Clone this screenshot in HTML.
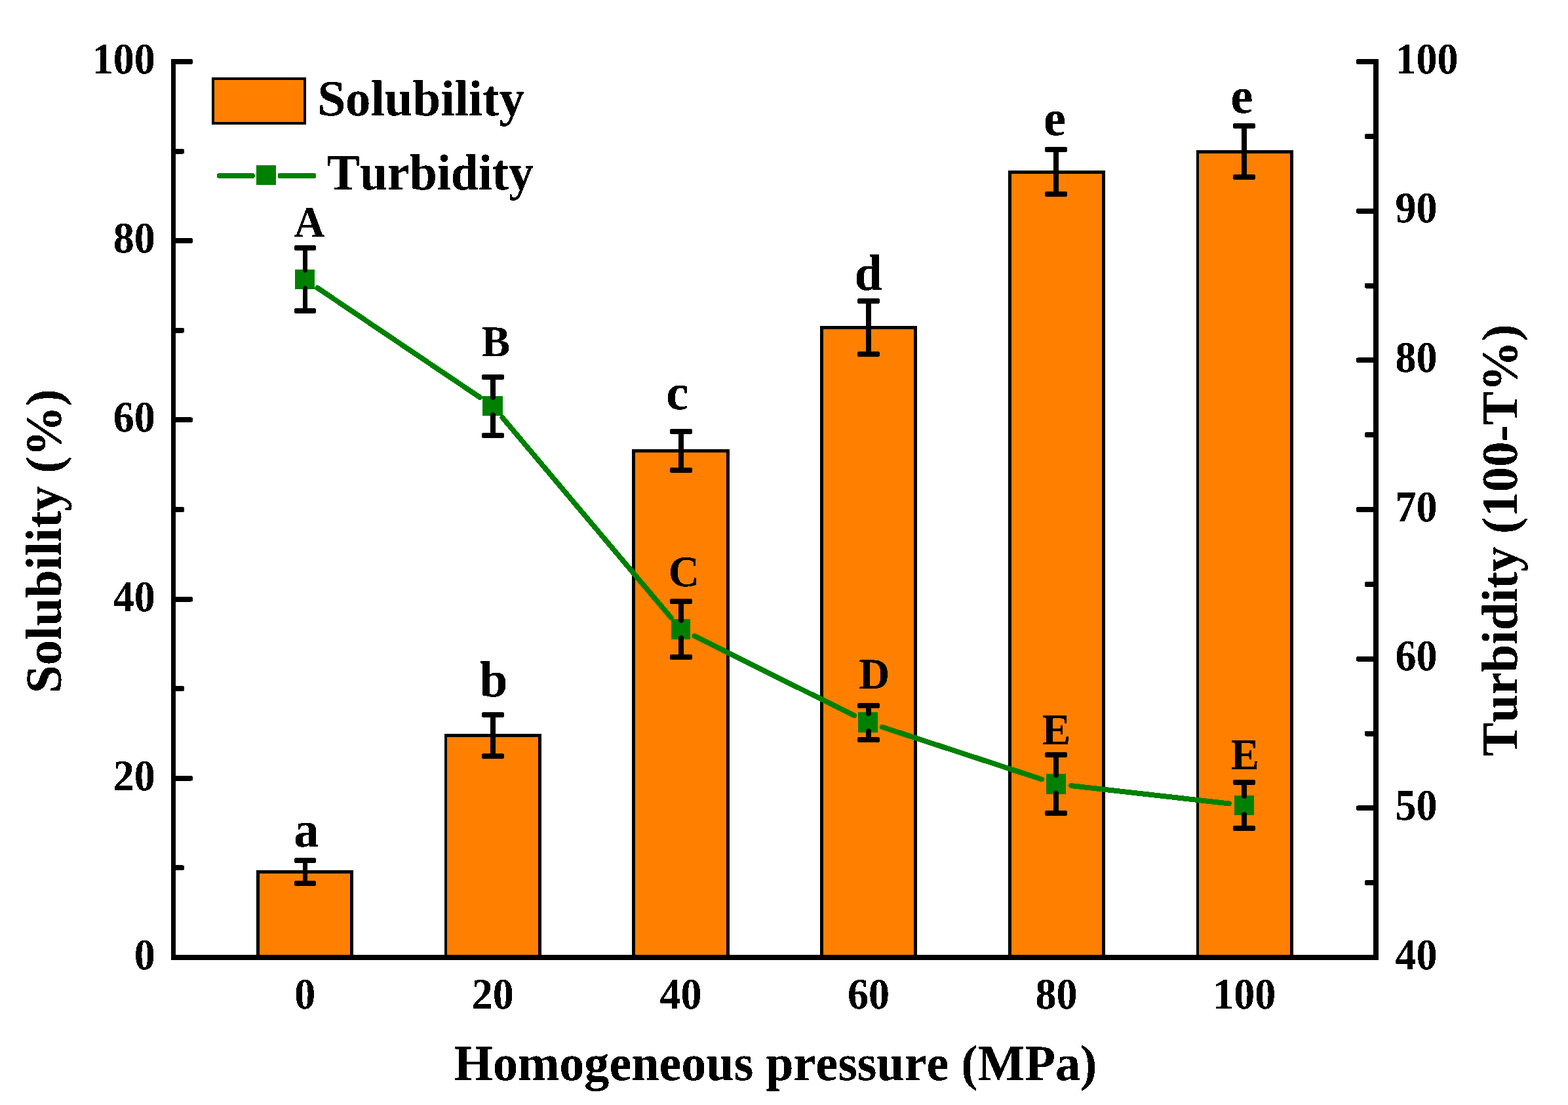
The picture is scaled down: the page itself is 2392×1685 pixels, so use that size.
<!DOCTYPE html>
<html lang="en">
<head>
<meta charset="utf-8">
<title>Solubility and turbidity vs homogeneous pressure</title>
<style>
html,body{margin:0;padding:0;background:#fff;}
body{width:2392px;height:1685px;overflow:hidden;font-family:"Liberation Serif", "DejaVu Serif", serif;}
svg{display:block;}
svg rect,svg line,svg path{shape-rendering:crispEdges;}
svg text{font-kerning:none;font-variant-ligatures:none;text-rendering:geometricPrecision;}
</style>
</head>
<body>
<svg width="2392" height="1685" viewBox="0 0 2392 1685" font-family='"Liberation Serif", "DejaVu Serif", serif' font-weight="bold">
<defs><filter id="bilevel" filterUnits="userSpaceOnUse" x="0" y="0" width="2392" height="1685" color-interpolation-filters="sRGB"><feComponentTransfer><feFuncA type="discrete" tableValues="0 0 1 1 1"/></feComponentTransfer></filter></defs>
<rect width="2392" height="1685" fill="#fff"/>
<g id="bars">
<rect x="391" y="1327" width="148" height="133" fill="#000"/><rect x="396" y="1332" width="138" height="128" fill="#ff8000"/>
<rect x="678" y="1119" width="148" height="341" fill="#000"/><rect x="682" y="1124" width="139" height="336" fill="#ff8000"/>
<rect x="964" y="685" width="149" height="775" fill="#000"/><rect x="969" y="690" width="139" height="770" fill="#ff8000"/>
<rect x="1251" y="497" width="148" height="963" fill="#000"/><rect x="1256" y="502" width="138" height="958" fill="#ff8000"/>
<rect x="1538" y="260" width="148" height="1200" fill="#000"/><rect x="1543" y="265" width="138" height="1195" fill="#ff8000"/>
<rect x="1825" y="229" width="148" height="1231" fill="#000"/><rect x="1829" y="234" width="139" height="1226" fill="#ff8000"/>
</g>
<g id="axes" fill="#000">
<rect x="261" y="90.0" width="7" height="1374.0"/>
<rect x="2095" y="90.0" width="8" height="1374.0"/>
<rect x="261" y="1456" width="1842" height="8"/>
</g>
<g id="ticks" fill="#000">
<rect x="265" y="1319.40" width="16" height="8.0" rx="2.4"/>
<rect x="265" y="1182.80" width="29" height="8.0" rx="2.4"/>
<rect x="265" y="1046.20" width="16" height="8.0" rx="2.4"/>
<rect x="265" y="909.60" width="29" height="8.0" rx="2.4"/>
<rect x="265" y="773.00" width="16" height="8.0" rx="2.4"/>
<rect x="265" y="636.40" width="29" height="8.0" rx="2.4"/>
<rect x="265" y="499.80" width="16" height="8.0" rx="2.4"/>
<rect x="265" y="363.20" width="29" height="8.0" rx="2.4"/>
<rect x="265" y="226.60" width="16" height="8.0" rx="2.4"/>
<rect x="265" y="90.00" width="29" height="8.0" rx="2.4"/>
<rect x="2082" y="1342.17" width="16" height="8.0" rx="2.4"/>
<rect x="2069" y="1228.33" width="29" height="8.0" rx="2.4"/>
<rect x="2082" y="1114.50" width="16" height="8.0" rx="2.4"/>
<rect x="2069" y="1000.67" width="29" height="8.0" rx="2.4"/>
<rect x="2082" y="886.83" width="16" height="8.0" rx="2.4"/>
<rect x="2069" y="773.00" width="29" height="8.0" rx="2.4"/>
<rect x="2082" y="659.17" width="16" height="8.0" rx="2.4"/>
<rect x="2069" y="545.33" width="29" height="8.0" rx="2.4"/>
<rect x="2082" y="431.50" width="16" height="8.0" rx="2.4"/>
<rect x="2069" y="317.67" width="29" height="8.0" rx="2.4"/>
<rect x="2082" y="203.83" width="16" height="8.0" rx="2.4"/>
<rect x="2069" y="90.00" width="29" height="8.0" rx="2.4"/>
</g>
<g id="bar-err" fill="#000">
<rect x="462" y="1310" width="7" height="39"/><rect x="449" y="1308" width="33" height="8" rx="3"/><rect x="449" y="1343" width="33" height="8" rx="3"/>
<rect x="748" y="1088" width="8" height="67"/><rect x="735" y="1086" width="34" height="8" rx="3"/><rect x="735" y="1149" width="34" height="8" rx="3"/>
<rect x="1035" y="656" width="8" height="63"/><rect x="1022" y="654" width="34" height="8" rx="3"/><rect x="1022" y="713" width="34" height="8" rx="3"/>
<rect x="1321" y="457" width="8" height="85"/><rect x="1308" y="455" width="34" height="8" rx="3"/><rect x="1308" y="536" width="34" height="8" rx="3"/>
<rect x="1607" y="226" width="8" height="72"/><rect x="1594" y="224" width="34" height="8" rx="3"/><rect x="1594" y="292" width="34" height="8" rx="3"/>
<rect x="1894" y="190" width="8" height="82"/><rect x="1881" y="188" width="34" height="8" rx="3"/><rect x="1881" y="266" width="34" height="8" rx="3"/>
</g>
<g id="line" stroke="#008000" stroke-width="8.0" stroke-linecap="round" fill="none">
<line x1="484.24" y1="438.96" x2="732.26" y2="606.04"/>
<line x1="766.45" y1="636.74" x2="1023.55" y2="941.76"/>
<line x1="1059.27" y1="969.83" x2="1303.23" y2="1091.17"/>
<line x1="1346.05" y1="1108.72" x2="1588.95" y2="1188.28"/>
<line x1="1634.05" y1="1198.11" x2="1874.95" y2="1225.39"/>
</g>
<g id="markers" fill="#008000">
<rect x="450" y="411" width="30" height="30"/>
<rect x="736" y="604" width="31" height="30"/>
<rect x="1024" y="944" width="29" height="31"/>
<rect x="1309" y="1086" width="30" height="31"/>
<rect x="1596" y="1180" width="30" height="31"/>
<rect x="1883" y="1213" width="30" height="30"/>
</g>
<g id="line-err" fill="#000">
<path d="M462 376H469V412.30A3.5 3.5 0 0 1 462 412.30Z"/><path d="M462 476H469V439.60A3.5 3.5 0 0 0 462 439.60Z"/><rect x="449" y="374" width="33" height="8" rx="3"/><rect x="449" y="470" width="33" height="8" rx="3"/>
<path d="M748 573H756V605.80A4.0 4.0 0 0 1 748 605.80Z"/><path d="M748 666H756V633.00A4.0 4.0 0 0 0 748 633.00Z"/><rect x="735" y="571" width="34" height="8" rx="3"/><rect x="735" y="660" width="34" height="8" rx="3"/>
<path d="M1035 915H1043V946.00A4.0 4.0 0 0 1 1035 946.00Z"/><path d="M1035 1004H1043V972.90A4.0 4.0 0 0 0 1035 972.90Z"/><rect x="1022" y="913" width="34" height="8" rx="3"/><rect x="1022" y="998" width="34" height="8" rx="3"/>
<path d="M1321 1074H1329V1087.90A4.0 4.0 0 0 1 1321 1087.90Z"/><path d="M1321 1130H1329V1114.90A4.0 4.0 0 0 0 1321 1114.90Z"/><rect x="1308" y="1072" width="34" height="8" rx="3"/><rect x="1308" y="1124" width="34" height="8" rx="3"/>
<path d="M1607 1149H1615V1181.80A4.0 4.0 0 0 1 1607 1181.80Z"/><path d="M1607 1242H1615V1209.80A4.0 4.0 0 0 0 1607 1209.80Z"/><rect x="1594" y="1147" width="34" height="8" rx="3"/><rect x="1594" y="1236" width="34" height="8" rx="3"/>
<path d="M1894 1191H1902V1214.00A4.0 4.0 0 0 1 1894 1214.00Z"/><path d="M1894 1265H1902V1241.90A4.0 4.0 0 0 0 1894 1241.90Z"/><rect x="1881" y="1189" width="34" height="8" rx="3"/><rect x="1881" y="1259" width="34" height="8" rx="3"/>
</g>
<g id="legend">
<rect x="323" y="118" width="144" height="72" fill="#000"/><rect x="327" y="122" width="136" height="64" fill="#ff8000"/>
<g stroke="#008000" stroke-width="8.0" stroke-linecap="round"><line x1="334.8" y1="268" x2="385.2" y2="268"/><line x1="427.5" y1="268" x2="478.4" y2="268"/></g>
<rect x="391" y="252" width="30" height="30" fill="#008000"/>
</g>
<g id="text" fill="#000" filter="url(#bilevel)">
<text transform="translate(204.64,1478.00) scale(0.9624,1)" font-size="66.5">0</text>
<text transform="translate(172.64,1204.80) scale(0.9624,1)" font-size="66.5">20</text>
<text transform="translate(172.64,931.60) scale(0.9624,1)" font-size="66.5">40</text>
<text transform="translate(172.64,658.40) scale(0.9624,1)" font-size="66.5">60</text>
<text transform="translate(172.64,385.20) scale(0.9624,1)" font-size="66.5">80</text>
<text transform="translate(140.64,112.00) scale(0.9624,1)" font-size="66.5">100</text>
<text transform="translate(2128.40,1477.60) scale(0.9624,1)" font-size="66.5">40</text>
<text transform="translate(2128.40,1249.93) scale(0.9624,1)" font-size="66.5">50</text>
<text transform="translate(2128.40,1022.27) scale(0.9624,1)" font-size="66.5">60</text>
<text transform="translate(2128.40,794.60) scale(0.9624,1)" font-size="66.5">70</text>
<text transform="translate(2128.40,566.93) scale(0.9624,1)" font-size="66.5">80</text>
<text transform="translate(2128.40,339.27) scale(0.9624,1)" font-size="66.5">90</text>
<text transform="translate(2128.40,111.60) scale(0.9624,1)" font-size="66.5">100</text>
<text transform="translate(449.20,1537.60) scale(0.9624,1)" font-size="66.5">0</text>
<text transform="translate(719.80,1537.60) scale(0.9624,1)" font-size="66.5">20</text>
<text transform="translate(1006.40,1537.60) scale(0.9624,1)" font-size="66.5">40</text>
<text transform="translate(1293.00,1537.60) scale(0.9624,1)" font-size="66.5">60</text>
<text transform="translate(1579.60,1537.60) scale(0.9624,1)" font-size="66.5">80</text>
<text transform="translate(1850.20,1537.60) scale(0.9624,1)" font-size="66.5">100</text>
<text transform="translate(448.22,1291.30) scale(0.9935,1)" font-size="77.0">a</text>
<text transform="translate(731.94,1061.50) scale(0.9935,1)" font-size="77.0">b</text>
<text transform="translate(1016.27,623.50) scale(0.9935,1)" font-size="77.0">c</text>
<text transform="translate(1303.41,441.50) scale(0.9935,1)" font-size="77.0">d</text>
<text transform="translate(1592.11,206.40) scale(0.9935,1)" font-size="77.0">e</text>
<text transform="translate(1877.41,171.50) scale(0.9935,1)" font-size="77.0">e</text>
<text transform="translate(448.55,361.20) scale(0.9804,1)" font-size="66.3">A</text>
<text transform="translate(734.69,543.00) scale(0.9804,1)" font-size="66.3">B</text>
<text transform="translate(1020.02,894.40) scale(0.9804,1)" font-size="66.3">C</text>
<text transform="translate(1310.20,1050.00) scale(0.9804,1)" font-size="66.3">D</text>
<text transform="translate(1589.73,1135.00) scale(0.9804,1)" font-size="66.3">E</text>
<text transform="translate(1877.58,1173.00) scale(0.9804,1)" font-size="66.3">E</text>
<text transform="translate(484.42,176.20) scale(0.9928,1)" font-size="77.3">Solubility</text>
<text transform="translate(498.62,289.00) scale(0.9784,1)" font-size="77.3">Turbidity</text>
<text transform="translate(692.70,1646.60) scale(0.9844,1)" font-size="77.3">Homogeneous pressure (MPa)</text>
<text transform="translate(92.60,1057.19) rotate(-90) scale(0.9947,1)" font-size="77.3">Solubility (%)</text>
<text transform="translate(2314.00,1153.10) rotate(-90) scale(0.9924,1)" font-size="77.3">Turbidity (100-T%)</text>
</g>
</svg>
</body>
</html>
